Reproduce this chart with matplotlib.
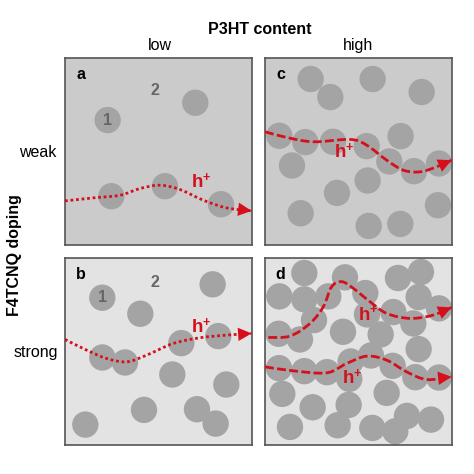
import numpy as np
import matplotlib
matplotlib.use("Agg")
import matplotlib.pyplot as plt
from matplotlib.patches import Circle, PathPatch
from matplotlib.path import Path

plt.rcParams['font.family'] = ['Liberation Sans', 'DejaVu Sans']

col_title = "P3HT content"
col_labels = ["low", "high"]
row_title = "F4TCNQ doping"
row_labels = ["weak", "strong"]

circles_a = [(143,210),(406,158),(154,438),(315,408),(483,462)]
circles_b = [(127,143),(458,103),(241,191),(127,322),(195,337),(364,279),(475,258),
             (337,373),(499,403),(252,479),(411,477),(467,520),(76,523)]
circles_c = [(152,87),(211,141),(338,87),(485,126),(58,257),(136,276),(219,275),(320,288),
             (422,258),(96,346),(388,334),(462,363),(537,340),(323,391),(231,428),(122,489),
             (534,465),(326,527),(421,521)]
circles_d = [(133,69),(255,82),(414,84),(483,66),(58,139),(133,148),(205,139),(316,129),
             (476,141),(537,175),(321,193),(400,186),(460,220),(162,210),(249,245),(362,253),
             (56,251),(120,268),(476,297),(333,316),(272,334),(57,354),(133,363),(201,366),
             (398,347),(466,381),(537,382),(268,386),(67,431),(380,428),(158,471),(266,464),
             (90,530),(233,525),(337,533),(441,497),(513,508),(406,543)]

path_a = [(15,452),(100,443),(180,435),(240,415),(300,405),(360,418),(430,450),(500,473),(575,482)]
path_b = [(15,268),(80,300),(140,325),(200,335),(260,315),(340,280),(420,263),(500,255),(575,250)]
path_c = [(15,245),(80,262),(160,275),(270,268),(320,285),(380,330),(430,360),(480,365),(530,350),(575,330)]
path_d1 = [(25,262),(90,258),(150,220),(190,170),(215,110),(245,95),(280,115),(330,155),(380,190),(450,205),(520,195),(575,172)]
path_d2 = [(15,350),(100,362),(200,368),(260,340),(320,318),(380,330),(440,365),(500,388),(575,380)]

hole_a = [(428,395)]
hole_b = [(428,230)]
hole_c = [(258,305)]
hole_d = [(330,193),(283,382)]

PX = 474
RED = "#d5101c"


def smooth(points):
    p = np.array(points, float)
    q = np.vstack([p[0], p, p[-1]])
    verts = [tuple(p[0])]
    codes = [Path.MOVETO]
    for i in range(1, len(q) - 2):
        verts += [tuple(q[i] + (q[i+1] - q[i-1]) / 6),
                  tuple(q[i+1] - (q[i+2] - q[i]) / 6),
                  tuple(q[i+1])]
        codes += [Path.CURVE4] * 3
    return Path(verts, codes)


def panel(x0, y0, letter, bg, circles, paths, holes, dash, numbers):
    ax = fig.add_axes([x0 / PX, 1 - (y0 + 187) / PX, 187.3 / PX, 187 / PX])
    ax.set_xlim(15, 577)
    ax.set_ylim(585, 25)
    ax.set_xticks([]); ax.set_yticks([])
    ax.set_facecolor(bg)
    for s in ax.spines.values():
        s.set_color("#555555"); s.set_linewidth(1.2)
    for c in circles:
        ax.add_patch(Circle(c, 39.5, fc="#a4a4a4", ec="none", zorder=2))
    for pts in paths:
        ax.add_patch(PathPatch(smooth(pts), fc="none", ec=RED, lw=2.0,
                               linestyle=dash, zorder=3, capstyle="butt"))
        ax.annotate("", xy=pts[-1], xytext=(pts[-1][0] - (pts[-1][0]-pts[-2][0]) * .5,
                                            pts[-1][1] - (pts[-1][1]-pts[-2][1]) * .5),
                    arrowprops=dict(arrowstyle="-|>,head_length=0.65,head_width=0.32", color=RED,
                                    lw=0, shrinkA=0, shrinkB=0, mutation_scale=15), zorder=4)
    for h in holes:
        ax.text(h[0], h[1] + 3, "h", color=RED, fontsize=13.5, fontweight="bold",
                ha="right", va="center", zorder=5)
        ax.text(h[0] - 1, h[1] - 12, "+", color=RED, fontsize=9, fontweight="bold",
                ha="left", va="center", zorder=5)
    ax.text(62, 73, letter, fontsize=11.5, fontweight="bold", color="black", ha="center", va="center", zorder=6)
    for n, pos in numbers:
        ax.text(pos[0], pos[1], n, fontsize=11.5, fontweight="bold", color="#666666",
                ha="center", va="center", zorder=6)
    return ax


fig = plt.figure(figsize=(4.74, 4.74), dpi=100, facecolor="white")
LIGHT, PALE = "#cbcbcb", "#e3e3e3"
panel(65, 58.3, "a", LIGHT, circles_a, [path_a], hole_a, (0, (1, 1)), [("1", (143,210)), ("2", (284,122))])
panel(265, 58.3, "c", LIGHT, circles_c, [path_c], hole_c, (0, (3.2, 1.2)), [])
panel(65, 258.3, "b", PALE, circles_b, [path_b], hole_b, (0, (1, 1)), [("1", (127,143)), ("2", (284,97))])
panel(265, 258.3, "d", PALE, circles_d, [path_d1, path_d2], hole_d, (0, (3.2, 1.2)), [])


def ftext(x, y, s, **kw):
    fig.text(x / PX, 1 - y / PX, s, ha="center", va="center", color="black", **kw)


ftext(260, 29, col_title, fontsize=11.5, fontweight="bold")
ftext(160, 45, col_labels[0], fontsize=11.5)
ftext(358, 45, col_labels[1], fontsize=11.5)
ftext(38, 152, row_labels[0], fontsize=11.5)
ftext(36, 352, row_labels[1], fontsize=11.5)
ftext(15, 255, row_title, fontsize=11.5, fontweight="bold", rotation=90)

fig.savefig("out.png", dpi=100)
